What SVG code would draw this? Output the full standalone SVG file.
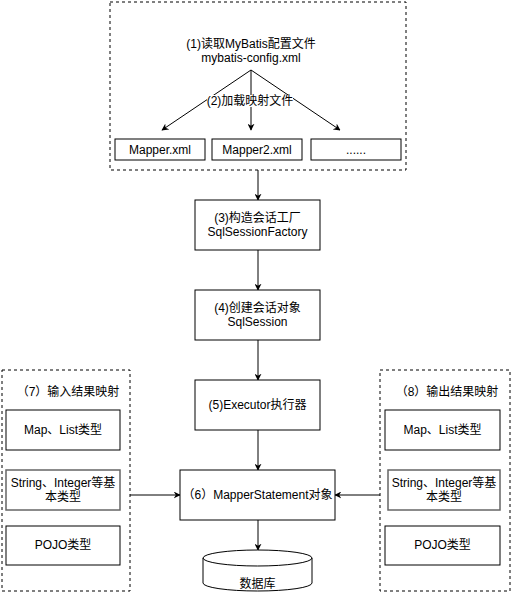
<svg xmlns="http://www.w3.org/2000/svg" width="511" height="602" viewBox="0 0 511 602">
<defs>
<marker id="ah" viewBox="0 0 10 10" refX="9" refY="5" markerWidth="7" markerHeight="7" orient="auto" markerUnits="userSpaceOnUse">
<path d="M0,0 L10,5 L0,10 L3,5 Z" fill="#000"/>
</marker>
</defs>
<style>
text{font-family:"Liberation Sans","Noto Sans CJK SC",sans-serif;font-size:12px;fill:#000;text-anchor:middle}
.box{fill:#fff;stroke:#000;stroke-width:1}
.gbox{fill:#fff;stroke:#666;stroke-width:1.5}
.dash{fill:#fff;stroke:#000;stroke-width:1;stroke-dasharray:3,3}
.c{fill:none;stroke:#000;stroke-width:1;marker-end:url(#ah)}
</style>
<rect width="511" height="602" fill="#fff"/>
<g id="config-group">
<rect class="dash" x="110" y="2" width="296" height="168"/>
<text x="251" y="48">(1)读取MyBatis配置文件</text>
<text x="251" y="62">mybatis-config.xml</text>
</g>
<g id="left-group">
<rect class="dash" x="2" y="370" width="128" height="221"/>
<text x="68" y="396">（7）输入结果映射</text>
</g>
<g id="right-group">
<rect class="dash" x="380" y="370" width="130" height="221"/>
<text x="447" y="396">（8）输出结果映射</text>
</g>
<g id="connectors">
<line class="c" x1="251" y1="70" x2="162" y2="130"/>
<line class="c" x1="251" y1="70" x2="251" y2="130"/>
<line class="c" x1="251" y1="70" x2="340" y2="130"/>
<line class="c" x1="258" y1="170" x2="258" y2="200"/>
<line class="c" x1="258" y1="250" x2="258" y2="290"/>
<line class="c" x1="258" y1="340" x2="258" y2="380"/>
<line class="c" x1="258" y1="430" x2="258" y2="470"/>
<line class="c" x1="258" y1="520" x2="258" y2="550"/>
<line class="c" x1="130" y1="495" x2="180" y2="495"/>
<line class="c" x1="380" y1="495" x2="335" y2="495"/>
</g>
<g id="label2">
<rect x="207" y="95" width="86" height="12" fill="#fff"/>
<text x="250" y="105">(2)加载映射文件</text>
</g>
<g id="mapper1"><rect class="box" x="115" y="139" width="90" height="21"/><text x="160" y="154">Mapper.xml</text></g>
<g id="mapper2"><rect class="box" x="212" y="139" width="90" height="21"/><text x="257" y="154">Mapper2.xml</text></g>
<g id="mapper3"><rect class="box" x="311" y="139" width="90" height="21"/><text x="356" y="154">......</text></g>
<g id="node3"><rect class="box" x="195" y="200" width="125" height="50"/><text x="257.5" y="222">(3)构造会话工厂</text><text x="257.5" y="236">SqlSessionFactory</text></g>
<g id="node4"><rect class="box" x="195" y="290" width="125" height="50"/><text x="257.5" y="312">(4)创建会话对象</text><text x="257.5" y="326">SqlSession</text></g>
<g id="node5"><rect class="box" x="195" y="380" width="125" height="50"/><text x="257.5" y="409">(5)Executor执行器</text></g>
<g id="node6"><rect class="box" x="180" y="470" width="155" height="50"/><text x="257.5" y="499">（6）MapperStatement对象</text></g>
<g id="db">
<path class="box" d="M203,558 A54.5,8 0 0 1 312,558 L312,583 A54.5,8 0 0 1 203,583 Z"/>
<path d="M203,558 A54.5,8 0 0 0 312,558" fill="none" stroke="#000"/>
<text x="257.5" y="588">数据库</text>
</g>
<g id="in-map"><rect class="box" x="6" y="410" width="114" height="40"/><text x="63" y="434">Map、List类型</text></g>
<g id="in-string"><rect class="gbox" x="6" y="470" width="114" height="40"/><text x="63" y="487">String、Integer等基</text><text x="63" y="501">本类型</text></g>
<g id="in-pojo"><rect class="box" x="6" y="526" width="114" height="39"/><text x="63" y="549">POJO类型</text></g>
<g id="out-map"><rect class="box" x="385" y="410" width="115" height="40"/><text x="442.5" y="434">Map、List类型</text></g>
<g id="out-string"><rect class="gbox" x="388" y="470" width="112" height="40"/><text x="444" y="487">String、Integer等基</text><text x="444" y="501">本类型</text></g>
<g id="out-pojo"><rect class="box" x="385" y="526" width="115" height="39"/><text x="442.5" y="549">POJO类型</text></g>
</svg>
